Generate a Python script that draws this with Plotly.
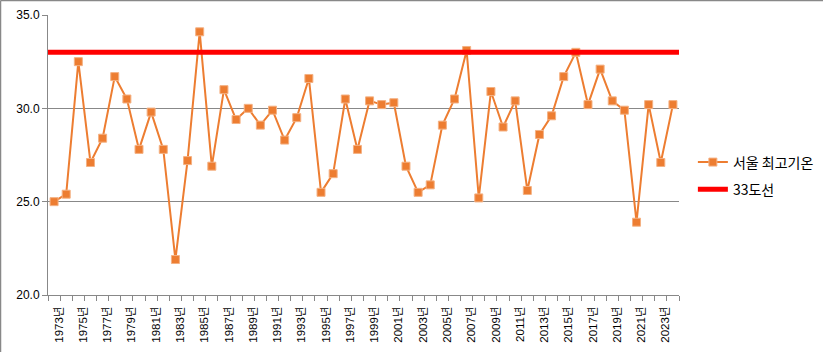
import plotly.graph_objects as go

years = list(range(1973, 2025))
year_labels = [f"{y}년" for y in years]
seoul_max = [25.0, 25.4, 32.5, 27.1, 28.4, 31.7, 30.5, 27.8, 29.8, 27.8,
             21.9, 27.2, 34.1, 26.9, 31.0, 29.4, 30.0, 29.1, 29.9, 28.3,
             29.5, 31.6, 25.5, 26.5, 30.5, 27.8, 30.4, 30.2, 30.3, 26.9,
             25.5, 25.9, 29.1, 30.5, 33.1, 25.2, 30.9, 29.0, 30.4, 25.6,
             28.6, 29.6, 31.7, 33.0, 30.2, 32.1, 30.4, 29.9, 23.9, 30.2,
             27.1, 30.2]
threshold = 33.0
series_names = ["서울 최고기온", "33도선"]
y_ticks = [20, 25, 30, 35]

idx = list(range(len(years)))
n = len(years)

fig = go.Figure()
fig.add_trace(go.Scatter(
    x=idx, y=seoul_max, name=series_names[0], mode="lines+markers",
    legendgroup="a",
    line=dict(color="#ED7D31", width=2),
    marker=dict(symbol="square", size=8, color="#ED7D31",
                line=dict(color="#F4B183", width=1)),
))
fig.add_trace(go.Scatter(
    x=[-0.5, n - 0.5], y=[threshold, threshold], name=series_names[1],
    mode="lines", legendgroup="b",
    line=dict(color="#FF0000", width=5),
))

font_fam = "Liberation Sans, Noto Sans CJK KR, sans-serif"

fig.update_layout(
    width=823, height=352,
    margin=dict(l=48, r=144, t=15, b=57, autoexpand=False),
    paper_bgcolor="white", plot_bgcolor="white",
    font=dict(family=font_fam, color="black", size=12),
    showlegend=True,
    legend=dict(x=1.022, y=0.425, xanchor="left", yanchor="middle",
                font=dict(size=14, family="Noto Sans CJK KR, sans-serif"),
                tracegroupgap=6, itemwidth=30, bgcolor="rgba(0,0,0,0)"),
    xaxis=dict(
        range=[-0.5, n - 0.5],
        tickmode="array",
        tickvals=[i + 0.4 for i in idx[::2]],
        ticktext=year_labels[::2],
        tickangle=-90,
        ticks="", ticklen=0,
        ticklabelstandoff=6,
        tickfont=dict(size=11.5, family=font_fam),
        showgrid=False, zeroline=False,
        showline=True, linecolor="#888888", linewidth=1,
        minor=dict(tickmode="linear", tick0=-0.5, dtick=1, ticks="outside",
                   ticklen=5, tickcolor="#888888", showgrid=False),
    ),
    yaxis=dict(
        range=[20, 35],
        tickmode="array", tickvals=y_ticks,
        ticktext=[f"{v:.1f}" for v in y_ticks],
        ticks="outside", ticklen=5, tickcolor="#888888",
        showgrid=True, gridcolor="#888888", gridwidth=1,
        zeroline=False,
        showline=True, linecolor="#888888", linewidth=1,
        tickfont=dict(size=12, family=font_fam),
    ),
)

# outer chart frame (top and left edges visible)
fig.add_shape(type="line", xref="paper", yref="paper",
              x0=-47.5 / 631, x1=1.3, y0=1 + 14.5 / 280, y1=1 + 14.5 / 280,
              line=dict(color="#888888", width=1.5))
fig.add_shape(type="line", xref="paper", yref="paper",
              x0=-47.5 / 631, x1=-47.5 / 631, y0=-0.3, y1=1 + 14.5 / 280,
              line=dict(color="#888888", width=1.5))

fig.write_html("out.html")
